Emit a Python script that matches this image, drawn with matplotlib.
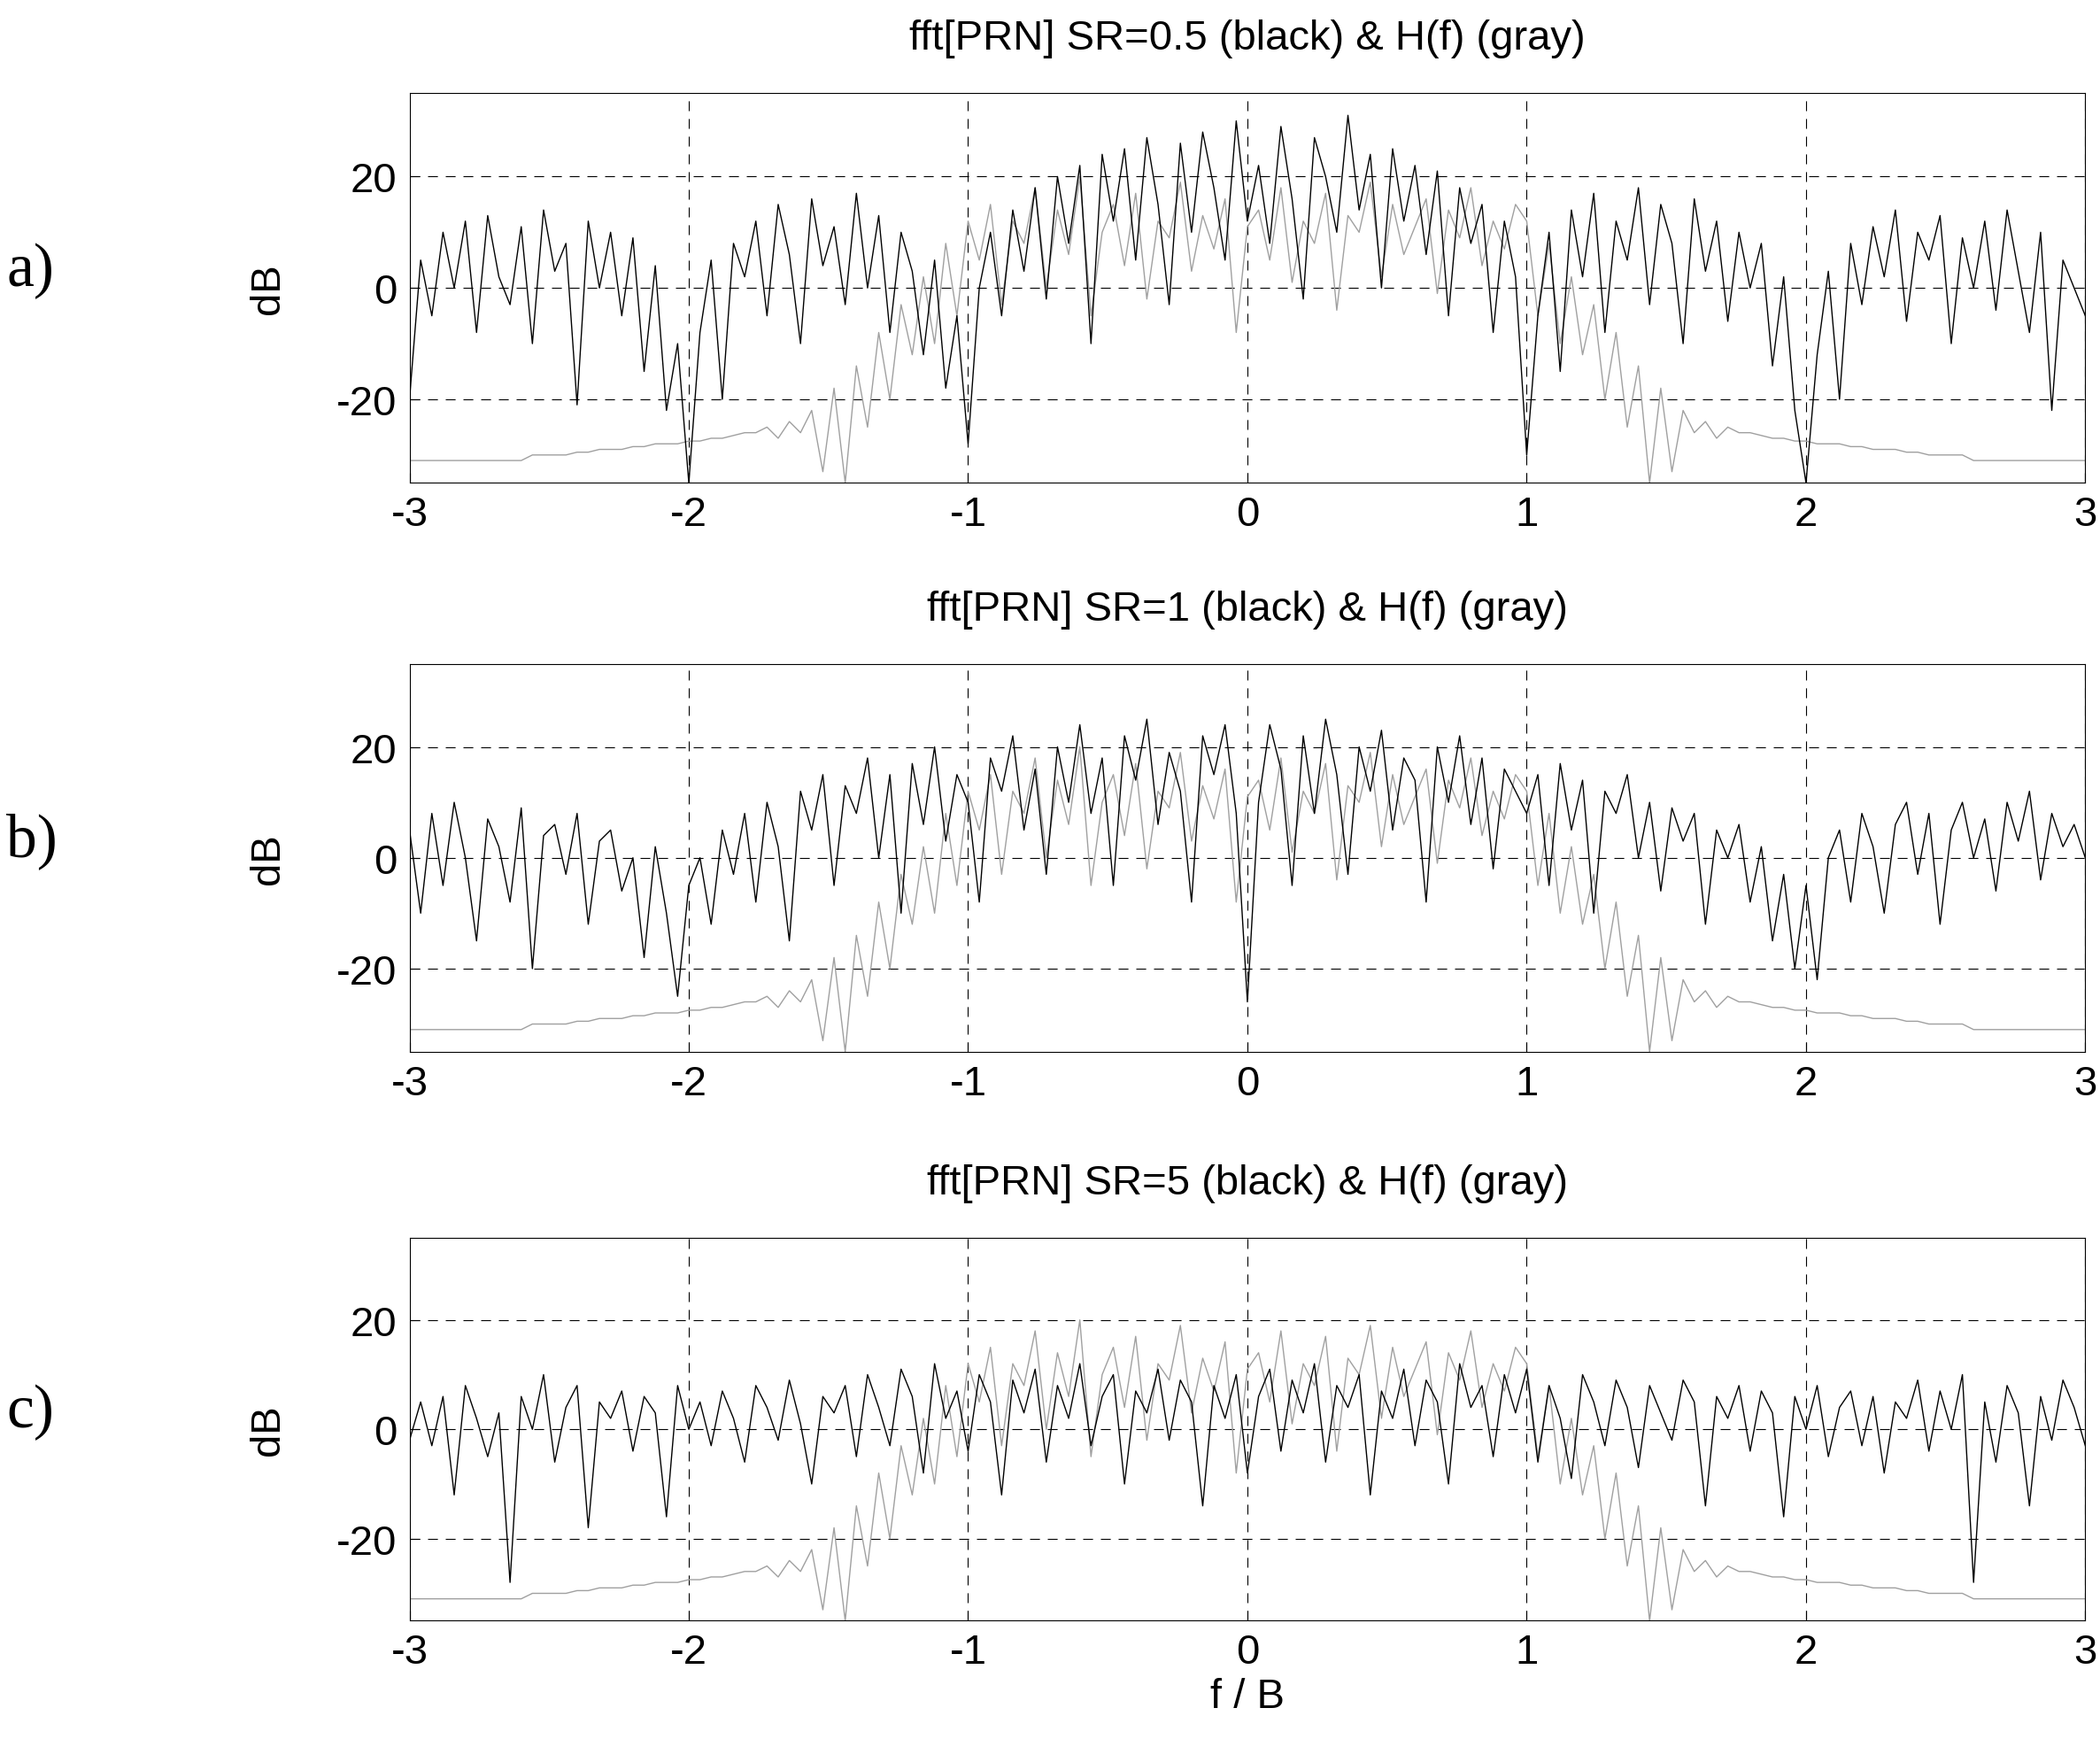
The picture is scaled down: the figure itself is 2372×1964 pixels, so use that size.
import numpy as np
import matplotlib
matplotlib.use("Agg")
import matplotlib.pyplot as plt

plt.rcParams["font.family"] = "Liberation Sans"
plt.rcParams["axes.unicode_minus"] = False

x_ticks = [-3, -2, -1, 0, 1, 2, 3]
y_ticks = [-20, 0, 20]
n_pts = 151
freq = np.linspace(-3, 3, n_pts)

gray_h = ([-31]*11 +
 [-30,-30,-30,-30,-29.5,-29.5,-29,-29,-29,-28.5] +
 [-28.5,-28,-28,-28,-27.5,-27.5,-27,-27,-26.5,-26] +
 [-26,-25,-27,-24,-26] + [-22,-33,-18,-35,-14] + [-25,-8,-20,-3,-12] + [2,-10,8,-5,12] +
 [5,15,-3,12,8,18,0,14,6,20,-5,10,15,4,17,-2,12,9,19,3,13,7,16,-8,11,14,5,18,1,12,
  8,17,-4,13,10,19,2,15,6,11,16,-1,14,9,18,4,12,7,15] +
 [12,-5,8,-10,2] + [-12,-3,-20,-8,-25] + [-14,-35,-18,-33,-22] + [-26,-24,-27,-25,-26] +
 [-26,-26.5,-27,-27,-27.5,-27.5,-28,-28,-28,-28.5] +
 [-28.5,-29,-29,-29,-29.5,-29.5,-30,-30,-30,-30] + [-31]*11)

black_a = ([-20,5,-5,10,0,12,-8,13,2,-3,11,-10,14,3,8,-21,12,0,10,-5,9,-15,4,-22,-10] + [-35] +
 [-8,5,-20,8,2,12,-5,15,6,-10,16,4,11,-3,17,0,13,-8,10,3,-12,5,-18,-5] + [-28] +
 [0,10,-5,14,3,18,-2,20,8,22,-10,24,12,25,5,27,15,-3,26,10,28,18,5,30,12,22] +
 [8,29,16,-2,27,20,10,31,14,24,0,25,12,22,6,21,-5,18,8,15,-8,12,2] + [-30] +
 [-5,10,-15,14,2,17,-8,12,5,18,-3,15,8,-10,16,3,12,-6,10,0,8,-14,2,-22] + [-35] +
 [-12,3,-20,8,-3,11,2,14,-6,10,5,13,-10,9,0,12,-4,14,3,-8,10,-22,5,0,-5])

black_b = ([5,-10,8,-5,10,0,-15,7,2,-8,9,-20,4,6,-3,8,-12,3,5,-6,0,-18,2,-10,-25,-5] +
 [0,-12,5,-3,8,-8,10,2,-15,12,5,15,-5,13,8,18,0,15,-10,17,6,20,3,15] +
 [10,-8,18,12,22,5,16,-3,20,10,24,8,18,-5,22,14,25,6,19,12,-8,22,15,24,8] + [-26] +
 [10,24,16,-5,22,8,25,15,-3,20,12,23,5,18,14,-8,20,10,22,6,18,-2,16,12] +
 [8,15,-5,17,5,14,-10,12,8,15,0,10,-6,9,3,8,-12,5,0,6,-8,2,-15,-3,-20] +
 [-5,-22,0,5,-8,8,2,-10,6,10,-3,8,-12,5,10,0,7,-6,10,3,12,-4,8,2,6,0])

black_c = ([-2,5,-3,6,-12,8,2,-5,3,-28, 6,0,10,-6,4,8,-18,5,2,7, -4,6,3,-16,8,0,5,-3,7,2,
 -6,8,4,-2,9,1,-10,6,3,8, -5,10,4,-3,11,6,-8,12,2,7, -4,10,5,-12,9,3,11,-6,8,2,
 12,-3,6,10,-10,7,3,11,-2,9, 5,-14,8,2,10, -8, 6,11,-4,9,
 3,12,-6,8,4,10,-12,7,2,11, -3,9,5,-10,12,4,8,-5,10,3, 11,-6,8,2,-9,10,5,-3,9,4,
 -7,8,3,-2,9,5,-14,6,2,8, -4,7,3,-16,6,0,8,-5,4,7, -3,6,-8,5,2,9,-4,7,0,10,
 -28,5,-6,8,3,-14,6,-2,9,4,-3])

titles = ["fft[PRN] SR=0.5 (black) & H(f) (gray)",
          "fft[PRN] SR=1 (black) & H(f) (gray)",
          "fft[PRN] SR=5 (black) & H(f) (gray)"]
letters = ["a)", "b)", "c)"]
series = [black_a, black_b, black_c]

fig = plt.figure(figsize=(23.72, 19.65), dpi=100)
boxes = [(0.946, 0.722), (0.618, 0.395), (0.288, 0.068)]
for k, (top, bot) in enumerate(boxes):
    ax = fig.add_axes([0.195, bot, 0.798, top - bot])
    ax.plot(freq, gray_h, color="#a0a0a0", lw=1.0)
    ax.plot(freq, series[k], color="black", lw=1.0)
    ax.set_xlim(-3, 3)
    ax.set_ylim(-35, 35)
    ax.set_xticks(x_ticks)
    ax.set_yticks(y_ticks)
    ax.grid(True, color="black", ls=(0, (10, 8)), lw=0.8)
    ax.tick_params(labelsize=34, direction="in", length=8, pad=10)
    ax.set_ylabel("dB", fontsize=34, labelpad=40)
    ax.set_title(titles[k], fontsize=34, pad=36)
    fig.text(0.003, (top + bot) / 2 + 0.01, letters[k], fontsize=50,
             family="Liberation Serif", va="center")
    if k == 2:
        ax.set_xlabel("f / B", fontsize=34, labelpad=4)
fig.savefig("out.png", dpi=100)
